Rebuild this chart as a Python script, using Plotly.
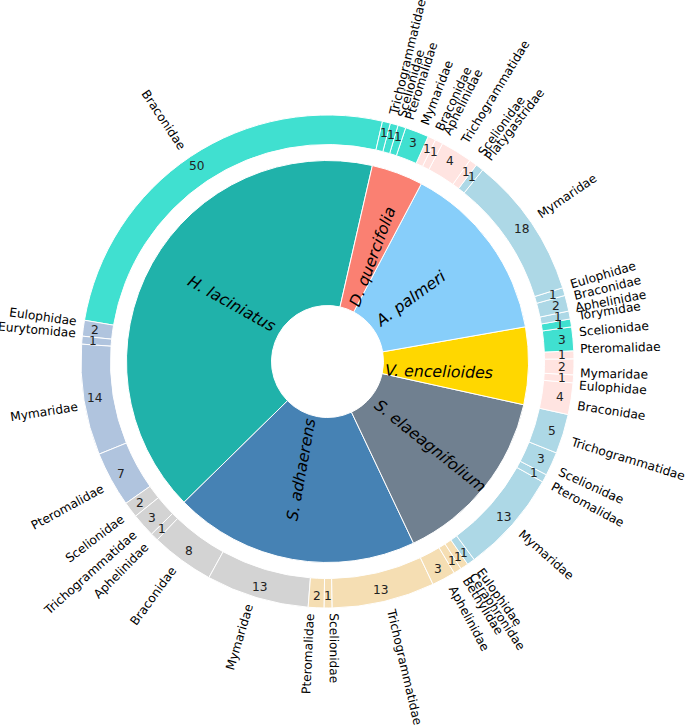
import math
import plotly.graph_objects as go

# ---------------- data ----------------
plants = ["H. laciniatus", "S. adhaerens", "S. elaeagnifolium",
          "V. encelioides", "A. palmeri", "D. quercifolia"]

hl_fam = ["Braconidae", "Eulophidae", "Eurytomidae", "Mymaridae", "Pteromalidae",
          "Scelionidae", "Trichogrammatidae"]
hl_n = [50, 2, 1, 14, 7, 2, 3]

sa_fam = ["Aphelinidae", "Braconidae", "Mymaridae", "Pteromalidae", "Scelionidae",
          "Trichogrammatidae"]
sa_n = [1, 8, 13, 2, 1, 13]

se_fam = ["Aphelinidae", "Bethylidae", "Ceraphronidae", "Eulophidae", "Mymaridae",
          "Pteromalidae", "Scelionidae", "Trichogrammatidae"]
se_n = [3, 1, 1, 1, 13, 1, 3, 5]

ve_fam = ["Braconidae", "Eulophidae", "Mymaridae", "Pteromalidae", "Scelionidae",
          "Torymidae"]
ve_n = [4, 1, 2, 1, 3, 1]

ap_fam = ["Aphelinidae", "Braconidae", "Eulophidae", "Mymaridae", "Platygastridae",
          "Scelionidae", "Trichogrammatidae"]
ap_n = [1, 2, 1, 18, 1, 1, 4]

dq_fam = ["Aphelinidae", "Braconidae", "Mymaridae", "Pteromalidae", "Scelionidae",
          "Trichogrammatidae"]
dq_n = [1, 1, 3, 1, 1, 1]

# ---------------- styles ----------------
plant_colors = ["#20B2AA", "#4682B4", "#708090", "#FFD700", "#87CEFA", "#FA8072"]
TQ, PK, LB, LSB, LG, WH = "#40E0D0", "#FFE4E1", "#ADD8E6", "#B0C4DE", "#D3D3D3", "#F5DEB3"
outer_colors = ([TQ, LSB, LSB, LSB, LSB, LG, LG] +
                [LG, LG, LG, WH, WH, WH] +
                [WH, WH, WH, LB, LB, LB, LB, LB] +
                [PK, PK, PK, PK, TQ, TQ] +
                [LB, LB, LB, LB, LB, PK, PK] +
                [PK, PK, TQ, TQ, TQ, TQ])

W, H = 685, 725
CX, CY = 327.5, 361.5
R_IN, HOLE_IN = 201.0, 56.0
R_OUT, RING_IN = 246.5, 217.0
R_NUM, R_LAB, R_PL = 235.0, 252.0, 56.5
PHI0 = 12.9          # clockwise-from-top angle where the first slice begins (going counter-clockwise)
FS_LAB, FS_NUM, FS_PL = 12.2, 12.2, 15.8
FONT = "DejaVu Sans"

groups = [(hl_fam, hl_n), (sa_fam, sa_n), (se_fam, se_n),
          (ve_fam, ve_n), (ap_fam, ap_n), (dq_fam, dq_n)]
plant_tot = [sum(n) for _, n in groups]
out_fam, out_n, out_ids = [], [], []
for p, (f, n) in zip(plants, groups):
    out_fam += f
    out_n += n
    out_ids += [p + " | " + x for x in f]
TOTAL = sum(out_n)

# DejaVu Sans advance widths (units of 1/2048 em)
CW = {' ': 651, '.': 651, 'A': 1401, 'B': 1405, 'C': 1430, 'D': 1577, 'E': 1294,
      'H': 1540, 'M': 1767, 'P': 1235, 'S': 1300, 'T': 1251, 'V': 1401,
      'a': 1255, 'b': 1300, 'c': 1126, 'd': 1300, 'e': 1260, 'f': 721, 'g': 1300,
      'h': 1298, 'i': 569, 'l': 569, 'm': 1995, 'n': 1298, 'o': 1253, 'p': 1300,
      'r': 842, 's': 1067, 't': 803, 'u': 1298, 'y': 1212, 'z': 1075, 'k': 1186}


def text_w(s, fs):
    return sum(CW.get(ch, 1250) for ch in s) / 2048.0 * fs


def to_paper(x, y):
    return x / W, 1 - y / H


def rad_label(text, theta_deg, r, fs, italic=False):
    """Radially rotated label; the rotated text's bounding box is aligned
    (left/right by side, bottom/top by half) to the point at radius r."""
    th = math.radians(theta_deg)
    xt, yt = r * math.cos(th), r * math.sin(th)
    right = xt > 0
    rot = theta_deg if right else theta_deg + 180
    w = text_w(text, fs)
    h = fs * 0.97
    rr = math.radians(rot)
    bw = w * abs(math.cos(rr)) + h * abs(math.sin(rr))
    bh = w * abs(math.sin(rr)) + h * abs(math.cos(rr))
    cxl = xt + bw / 2 if right else xt - bw / 2
    cyl = yt + bh / 2 if yt > 0 else yt - bh / 2
    X, Y = CX + cxl, CY - cyl
    ang = (-rot + 180) % 360 - 180
    xp, yp = to_paper(X, Y)
    return dict(x=xp, y=yp, xref="paper", yref="paper", text=text, showarrow=False,
                xanchor="center", yanchor="middle", textangle=ang,
                font=dict(family=FONT, size=fs, color="black",
                          style="italic" if italic else "normal"))


def dom(r):
    return dict(x=[(CX - r) / W, (CX + r) / W], y=[(H - (CY + r)) / H, (H - (CY - r)) / H])


# plotly's counter-clockwise pies place the first slice clockwise of `rotation`,
# so shift by the first slice's angle to start at PHI0
rot_in = PHI0 - 360.0 * plant_tot[0] / TOTAL
rot_out = PHI0 - 360.0 * out_n[0] / TOTAL

fig = go.Figure()
fig.add_trace(go.Pie(labels=plants, values=plant_tot, sort=False,
                     direction="counterclockwise", rotation=rot_in,
                     hole=HOLE_IN / R_IN, domain=dom(R_IN),
                     marker=dict(colors=plant_colors, line=dict(color="white", width=1)),
                     textinfo="none", textposition="none", showlegend=False))
fig.add_trace(go.Pie(labels=out_ids, values=out_n, sort=False,
                     direction="counterclockwise", rotation=rot_out,
                     hole=RING_IN / R_OUT, domain=dom(R_OUT),
                     marker=dict(colors=outer_colors, line=dict(color="white", width=1)),
                     textinfo="none", textposition="none", showlegend=False))

ann = []
cum = 0
for f, v in zip(out_fam, out_n):
    phi = PHI0 - 360.0 * (cum + v / 2) / TOTAL
    theta = 90 - phi
    th = math.radians(theta)
    X, Y = CX + R_NUM * math.cos(th), CY - R_NUM * math.sin(th)
    xp, yp = to_paper(X, Y)
    ann.append(dict(x=xp, y=yp, xref="paper", yref="paper", text=str(v), showarrow=False,
                    xanchor="center", yanchor="middle",
                    font=dict(family=FONT, size=FS_NUM, color="#222")))
    ann.append(rad_label(f, theta, R_LAB, FS_LAB))
    cum += v

cum = 0
for p, v in zip(plants, plant_tot):
    phi = PHI0 - 360.0 * (cum + v / 2) / TOTAL
    ann.append(rad_label(p, 90 - phi, R_PL, FS_PL, italic=True))
    cum += v

fig.update_layout(width=W, height=H, margin=dict(l=0, r=0, t=0, b=0),
                  paper_bgcolor="white", plot_bgcolor="white", annotations=ann,
                  showlegend=False)
fig.write_html("out.html")
